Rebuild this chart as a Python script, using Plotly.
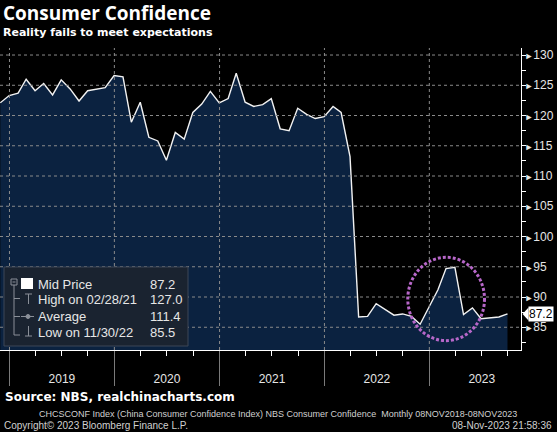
import plotly.graph_objects as go
import pandas as pd

# China consumer confidence index (NBS), month-end values Nov 2018 - Sep 2023
months = pd.date_range("2018-11-30", periods=59, freq="ME")
confidence = [
    122.1, 123.3,
    123.7, 126.0, 124.1, 125.3, 123.4, 125.9, 124.4, 122.4, 124.1, 124.3, 124.6, 126.6,
    126.4, 118.9, 122.2, 116.4, 115.8, 112.6, 117.2, 116.1, 120.5, 121.9, 124.0, 122.1,
    122.8, 127.0, 122.2, 121.5, 121.8, 122.8, 117.8, 117.5, 121.2, 120.2, 119.5, 119.8,
    121.5, 120.5, 113.2, 86.7, 86.8, 88.9, 87.9, 87.0, 87.2, 86.8, 85.5, 88.3,
    91.2, 94.7, 94.9, 87.1, 88.2, 86.4, 86.5, 86.7, 87.2,
]
year_starts = ["2019-01-01", "2020-01-01", "2021-01-01", "2022-01-01", "2023-01-01"]
y_ticks = [85, 90, 95, 100, 105, 110, 115, 120, 125, 130]
legend_rows = ["Mid Price", "High on 02/28/21", "Average", "Low on 11/30/22"]
legend_vals = ["87.2", "127.0", "111.4", "85.5"]
last_value = 87.2

W, H = 557, 432
PL, PR, PT, PB = 0, 521, 48, 350


def px(x):
    return (x - PL) / (PR - PL)


def py(y):
    return (PB - y) / (PB - PT)


BG = "#000000"
NAVY = "#0b2240"
GRID = "#8a8a8a"
TXT = "#e6e6e6"

fig = go.Figure()
fig.add_trace(go.Scatter(
    x=months, y=confidence, mode="lines", fill="tozeroy",
    fillcolor=NAVY, line=dict(color="#f2f2f2", width=1.4),
    hoverinfo="skip", showlegend=False,
))

shapes = []
# dashed grid drawn above the filled area
for d in year_starts:
    shapes.append(dict(type="line", xref="x", yref="paper", x0=d, x1=d, y0=0, y1=1,
                       line=dict(color=GRID, width=1, dash="3px,3px"), layer="above"))
for v in y_ticks:
    shapes.append(dict(type="line", xref="paper", yref="y", x0=0, x1=1, y0=v, y1=v,
                       line=dict(color=GRID, width=1, dash="3px,3px"), layer="above"))

# highlight circle
shapes.append(dict(type="circle", xref="x", yref="y", x0="2022-10-18", x1="2023-07-12",
                   y0=82.78, y1=96.56, line=dict(color="#b767c9", width=3, dash="3px,2px"),
                   layer="above"))

# legend box
shapes.append(dict(type="rect", xref="paper", yref="paper", x0=px(4), x1=px(188),
                   y0=py(346), y1=py(267), fillcolor="#1a2330",
                   line=dict(color="#3c4656", width=1), layer="above"))
tree = dict(color="#8a8f98", width=1)
shapes += [
    dict(type="rect", xref="paper", yref="paper", x0=px(11), x1=px(17), y0=py(285), y1=py(279),
         line=tree, layer="above"),
    dict(type="line", xref="paper", yref="paper", x0=px(12.5), x1=px(15.5), y0=py(282), y1=py(282),
         line=tree, layer="above"),
    dict(type="line", xref="paper", yref="paper", x0=px(14), x1=px(14), y0=py(285), y1=py(335),
         line=tree, layer="above"),
    dict(type="rect", xref="paper", yref="paper", x0=px(21), x1=px(33), y0=py(289), y1=py(278),
         fillcolor="white", line=dict(width=0), layer="above"),
]
for yy in [298.5, 316.5, 335]:
    shapes.append(dict(type="line", xref="paper", yref="paper", x0=px(14), x1=px(20),
                       y0=py(yy), y1=py(yy), line=tree, layer="above"))
# high / average / low icons
shapes += [
    dict(type="line", xref="paper", yref="paper", x0=px(25), x1=px(32), y0=py(294), y1=py(294), line=tree, layer="above"),
    dict(type="line", xref="paper", yref="paper", x0=px(28.5), x1=px(28.5), y0=py(294), y1=py(304), line=tree, layer="above"),
    dict(type="line", xref="paper", yref="paper", x0=px(21), x1=px(34), y0=py(316.5), y1=py(316.5), line=tree, layer="above"),
    dict(type="circle", xref="paper", yref="paper", x0=px(26), x1=px(30), y0=py(318.5), y1=py(314.5),
         fillcolor="#8a8f98", line=tree, layer="above"),
    dict(type="line", xref="paper", yref="paper", x0=px(28.5), x1=px(28.5), y0=py(326), y1=py(336), line=tree, layer="above"),
    dict(type="line", xref="paper", yref="paper", x0=px(25), x1=px(32), y0=py(336), y1=py(336), line=tree, layer="above"),
]
# pointer of the last value tag
yv = 55 + (130 - last_value) * 6.05
shapes.append(dict(type="path", xref="paper", yref="paper",
                   path=f"M {px(522.5)},{py(yv)} L {px(528.5)},{py(yv - 6.5)} L {px(528.5)},{py(yv + 6.5)} Z",
                   fillcolor="white", line=dict(width=0), layer="above"))

ann = []
ann.append(dict(text="<b>Consumer Confidence</b>", x=px(1), y=py(13.5), xref="paper", yref="paper",
                xanchor="left", yanchor="middle", showarrow=False,
                font=dict(family="Open Sans", size=19, color="white")))
ann.append(dict(text="<b>Reality fails to meet expectations</b>", x=px(1), y=py(32.5), xref="paper",
                yref="paper", xanchor="left", yanchor="middle", showarrow=False,
                font=dict(family="DejaVu Sans", size=11, color="white")))
ann.append(dict(text="<b>Source: NBS, realchinacharts.com</b>", x=px(3), y=py(397), xref="paper",
                yref="paper", xanchor="left", yanchor="middle", showarrow=False,
                font=dict(family="DejaVu Sans", size=12, color="white")))
ann.append(dict(text="CHCSCONF Index (China Consumer Confidence Index) NBS Consumer Confidence  Monthly 08NOV2018-08NOV2023",
                x=px(278), y=py(414), xref="paper", yref="paper", xanchor="center", yanchor="middle",
                showarrow=False, font=dict(family="Liberation Sans", size=9, color="#d0d0d0")))
ann.append(dict(text="Copyright\u00a9 2023 Bloomberg Finance L.P.", x=px(2), y=py(425.5), xref="paper",
                yref="paper", xanchor="left", yanchor="middle", showarrow=False,
                font=dict(family="Liberation Sans", size=10, color="#d0d0d0")))
ann.append(dict(text="08-Nov-2023 21:58:36", x=px(554), y=py(425.5), xref="paper",
                yref="paper", xanchor="right", yanchor="middle", showarrow=False,
                font=dict(family="Liberation Sans", size=10, color="#d0d0d0")))
row_y = [284, 299.5, 316.5, 332.5]
for name, val, yy in zip(legend_rows, legend_vals, row_y):
    ann.append(dict(text=name, x=px(36), y=py(yy), xref="paper", yref="paper", xanchor="left",
                    yanchor="middle", showarrow=False,
                    font=dict(family="Liberation Sans", size=13, color=TXT)))
    ann.append(dict(text=val, x=px(148), y=py(yy), xref="paper", yref="paper", xanchor="left",
                    yanchor="middle", showarrow=False,
                    font=dict(family="Liberation Sans", size=13, color=TXT)))
ann.append(dict(text=f"{last_value}", x=px(528), y=last_value, xref="paper", yref="y",
                xanchor="left", yanchor="middle", showarrow=False, bgcolor="white",
                borderpad=0, font=dict(family="Liberation Sans", size=12, color="black")))

fig.update_layout(
    width=W, height=H,
    margin=dict(l=PL, r=W - PR, t=PT, b=H - PB, pad=0, autoexpand=False),
    paper_bgcolor=BG, plot_bgcolor=BG,
    showlegend=False,
    shapes=shapes, annotations=ann,
    xaxis=dict(
        type="date", range=["2018-11-29", "2023-11-16"], automargin=False,
        showgrid=False, zeroline=False,
        showline=True, linecolor="white", linewidth=1,
        tick0="2019-01-01", dtick="M12", tickformat="%Y", ticklabelmode="period",
        ticks="outside", ticklen=35, tickcolor="#7a7a7a", tickwidth=1,
        ticklabelstandoff=-17,
        tickfont=dict(family="Liberation Sans", size=12, color=TXT),
        minor=dict(dtick="M3", tick0="2019-01-01", ticks="outside", ticklen=5,
                   tickcolor="white", showgrid=False),
    ),
    yaxis=dict(
        side="right", range=[81.24, 131.16], automargin=False,
        showgrid=False, zeroline=False,
        showline=True, linecolor="white", linewidth=1,
        tickmode="array", tickvals=y_ticks,
        ticktext=["<span style='font-size:9px'>\u25ba</span>" + str(v) for v in y_ticks],
        ticks="",
        tickfont=dict(family="Liberation Sans", size=12, color=TXT),
        minor=dict(dtick=2.5, tick0=0, ticks="outside", ticklen=4, tickcolor="white",
                   showgrid=False),
    ),
)

# the page has a default 8px body margin; remove it so the figure fills the window
fig.write_html("out.html", config={"displayModeBar": False},
               post_script="document.body.style.margin='0';")
